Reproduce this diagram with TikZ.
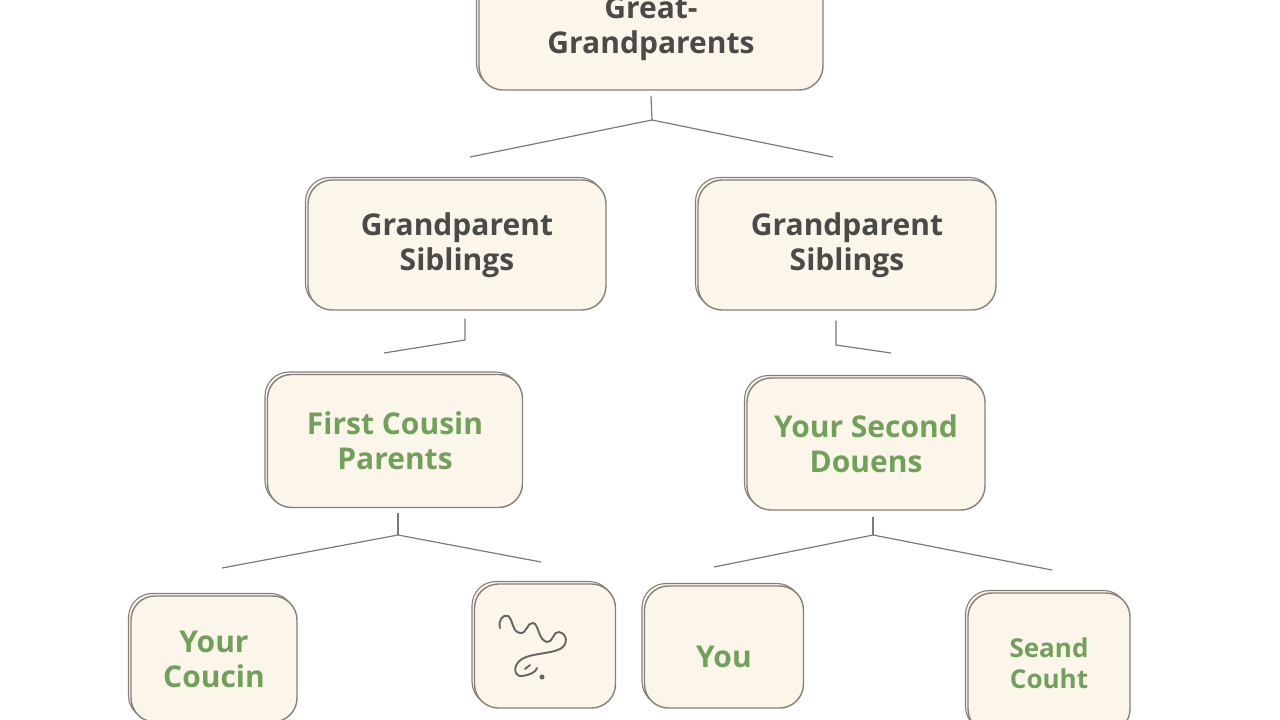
\documentclass[tikz,border=0pt]{standalone}
\usepackage{fontspec}
\setmainfont{Open Sans}
\usetikzlibrary{shadows,calc}
\definecolor{boxfill}{HTML}{FBF5EA}
\definecolor{boxline}{HTML}{858079}
\definecolor{linegray}{HTML}{7A7A7A}
\definecolor{darktext}{HTML}{4A4A48}
\definecolor{greentext}{HTML}{70A05A}
\tikzset{
  famnode/.style={draw=boxline, line width=1.4pt, fill=boxfill, rounded corners=24pt,
    align=center, inner sep=0pt, font=\bfseries\fontsize{30}{35}\selectfont,
    copy shadow={shadow xshift=-2.5pt, shadow yshift=2.5pt, draw=boxline, fill=boxfill, line width=1.1pt}},
  dark/.style={text=darktext},
  green/.style={text=greentext},
  conn/.style={draw=linegray, line width=1.2pt},
  squig/.style={draw=darktext!85, line width=1.9pt, line cap=round},
}
\begin{document}
\begin{tikzpicture}[x=1pt,y=-1pt]
\useasboundingbox (0,0) rectangle (1280,720);
\fill[white] (0,0) rectangle (1280,720);
% nodes
\node[famnode, dark, minimum width=344pt, minimum height=122pt] (gg) at (651,29) {Great-\\Grandparents};
\node[famnode, dark, minimum width=298pt, minimum height=130pt] (gsl) at (457,245) {Grandparent\\Siblings};
\node[famnode, dark, minimum width=298pt, minimum height=130pt] (gsr) at (847,245) {Grandparent\\Siblings};
\node[famnode, green, minimum width=255pt, minimum height=133pt] (fcp) at (395,441) {First Cousin\\Parents};
\node[famnode, green, minimum width=238pt, minimum height=132pt] (ysd) at (866,444) {Your Second\\Douens};
\node[famnode, green, minimum width=166pt, minimum height=126pt] (yc) at (214,659) {Your\\Coucin};
\node[famnode, minimum width=141pt, minimum height=124pt] (sq) at (545,646) {};
\node[famnode, green, minimum width=159pt, minimum height=122pt] (you) at (724,647) {\raisebox{-10pt}[\height][\depth]{You}};
\node[famnode, green, minimum width=162pt, minimum height=140pt, font=\bfseries\fontsize{26}{31}\selectfont] (sc) at (1049,663) {Seand\\Couht};
% squiggle
\draw[squig]
  (500,628) .. controls (498,620) and (503,614) .. (508,616)
  .. controls (513,619) and (512,632) .. (520,633)
  .. controls (527,634) and (527,622) .. (533,623)
  .. controls (539,624) and (538,640) .. (547,642)
  .. controls (553,643) and (553,631) .. (559,632)
  .. controls (568,634) and (568,645) .. (560,649)
  .. controls (550,654) and (532,653) .. (522,659)
  .. controls (512,665) and (514,677) .. (522,676)
  .. controls (530,675) and (536,672) .. (537,668);
\draw[squig] (525,669) -- (530,665);
\fill[darktext!85] (542,677) circle (2.5pt);
% connectors
\coordinate (j1) at (652,120);
\coordinate (e1a) at (470,157);
\coordinate (e1b) at (833,157);
\draw[conn] ([yshift=-5pt]gg.south) -- (j1);
\draw[conn] (e1a) -- (j1) -- (e1b);
\coordinate (j2) at (465,340);
\coordinate (e2) at (384,353);
\draw[conn] ($(gsl.south)+(8,8)$) -- (j2) -- (e2);
\coordinate (j3) at (836,345);
\coordinate (e3) at (891,353);
\draw[conn] ($(gsr.south)+(-11,10)$) -- (j3) -- (e3);
\coordinate (j4) at (398,535);
\coordinate (e4a) at (222,568);
\coordinate (e4b) at (541,562);
\draw[conn] ($(fcp.south)+(3,5)$) -- (j4);
\draw[conn] (e4a) -- (j4) -- (e4b);
\coordinate (j5) at (873,535);
\coordinate (e5a) at (714,567);
\coordinate (e5b) at (1052,570);
\draw[conn] ($(ysd.south)+(7,6)$) -- (j5);
\draw[conn] (e5a) -- (j5) -- (e5b);
\end{tikzpicture}
\end{document}
